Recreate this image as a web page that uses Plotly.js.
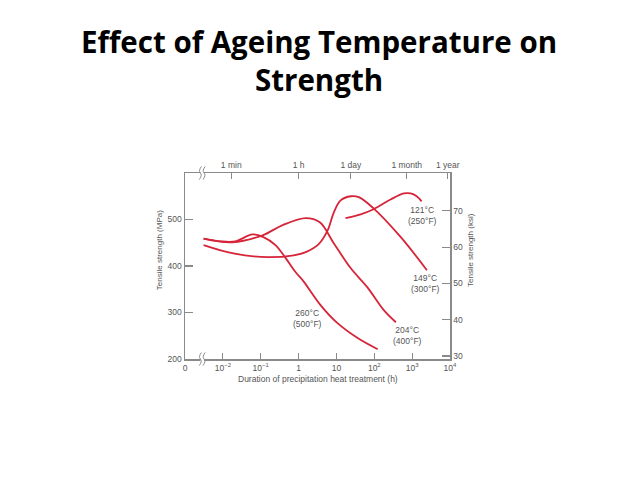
<!DOCTYPE html>
<html>
<head>
<meta charset="utf-8">
<script src="https://cdn.plot.ly/plotly-3.0.1.min.js"></script>
<style>html,body{margin:0;padding:0;background:#fff;}#chart{width:638px;height:479px;}</style>
</head>
<body>
<div id="chart"></div>
<script>
// ---- data (hours, MPa) ----
const hours260 = [0.0031, 0.0087, 0.0214, 0.0603, 0.1175, 0.245, 0.457, 0.83, 1.35, 3.8, 10.7, 36.3, 123];
const mpa260   = [459, 453, 453, 468, 462, 445, 417, 387, 367, 316, 277, 245, 221];

const hours204 = [0.0031, 0.0178, 0.112, 0.38, 1.55, 3.63, 8.5, 24, 66, 178, 372];
const mpa204   = [459, 451, 466, 488, 503, 494, 449, 395, 354, 305, 279];

const hours149 = [0.0031, 0.019, 0.151, 0.74, 1.55, 3.4, 5.9, 8.5, 12.9, 24, 38.9, 95.5, 501, 2455];
const mpa149   = [445, 427, 419, 423, 430, 447, 477, 515, 541, 550, 548, 524, 462, 391];

const hours121 = [17.4, 43.7, 95.5, 269, 603, 912, 1318, 1778];
const mpa121   = [503, 511, 522, 543, 556, 556, 550, 539];

const curveLabels = ["260°C<br>(500°F)", "204°C<br>(400°F)", "149°C<br>(300°F)", "121°C<br>(250°F)"];
const titleText = "Effect of Ageing Temperature on<br>Strength";

const bottomTickVals = [0.001, 0.01, 0.1, 1, 10, 100, 1000, 10000];
const bottomTickText = ["0", "10<sup>−2</sup>", "10<sup>−1</sup>", "1", "10", "10<sup>2</sup>", "10<sup>3</sup>", "10<sup>4</sup>"];
const topTickVals = [1/60, 1, 24, 720, 8760];
const topTickText = ["1 min", "1 h", "1 day", "1 month", "1 year"];
const mpaTicks = [200, 300, 400, 500];
const ksiTicks = [30, 40, 50, 60, 70];

const red = "rgb(214,36,56)";
const grey = "#8a8a8a";
const txt = "#555";

function curve(x, y) {
  return {x: x, y: y, type: "scatter", mode: "lines", xaxis: "x", yaxis: "y",
    line: {color: red, width: 1.8, shape: "spline", smoothing: 1}, hoverinfo: "skip", showlegend: false};
}
const traces = [
  curve(hours260, mpa260), curve(hours204, mpa204), curve(hours149, mpa149), curve(hours121, mpa121),
  {x: topTickVals, y: ksiTicks, type: "scatter", mode: "markers", xaxis: "x2", yaxis: "y2",
   marker: {opacity: 0, size: 1}, hoverinfo: "skip", showlegend: false}
];

const tickFont = {family: "Liberation Sans, Arial, sans-serif", size: 8.5, color: txt};

const labelPos = [[0.24, 288], [2.88, 250], [3.36, 363], [3.28, 508]];
const annotations = curveLabels.map((t, i) => ({
  text: t, x: labelPos[i][0], y: labelPos[i][1], xref: "x", yref: "y",
  showarrow: false, font: {family: "Liberation Sans, Arial, sans-serif", size: 8.5, color: txt}
}));
annotations.push({
  text: titleText, xref: "paper", yref: "paper", x: (319 - 184.5) / 265.5, y: (359 - 60) / 186,
  xanchor: "center", yanchor: "middle", showarrow: false,
  font: {family: "'Open Sans', Lato, sans-serif", size: 29.5, color: "#000", weight: "bold"}
});
annotations.push(
  {text: "Tensile strength (MPa)", xref: "paper", yref: "paper", x: -0.122, y: 0.586, textangle: -90,
   showarrow: false, font: {family: "Liberation Sans, Arial, sans-serif", size: 8, color: txt}},
  {text: "Tensile strength (ksi)", xref: "paper", yref: "paper", x: 1.10, y: 0.586, textangle: -90,
   showarrow: false, font: {family: "Liberation Sans, Arial, sans-serif", size: 8, color: txt}},
  {text: "Duration of precipitation heat treatment (h)", xref: "paper", yref: "paper", x: 0.5, y: -0.145,
   showarrow: false, font: {family: "Liberation Sans, Arial, sans-serif", size: 8.5, color: txt}}
);

// axis break marks
function breakShapes(yc) {
  const h = 0.035;
  return [
    {type: "rect", xref: "paper", yref: "paper", x0: 0.058, x1: 0.072, y0: yc - 0.012, y1: yc + 0.012,
     fillcolor: "#fff", line: {width: 0}, layer: "above"},
    {type: "path", xref: "paper", yref: "paper", layer: "above",
     path: `M 0.054 ${yc - h} Q 0.066 ${yc - h/3} 0.058 ${yc} Q 0.050 ${yc + h/3} 0.062 ${yc + h}`,
     line: {color: grey, width: 1}},
    {type: "path", xref: "paper", yref: "paper", layer: "above",
     path: `M 0.068 ${yc - h} Q 0.080 ${yc - h/3} 0.072 ${yc} Q 0.064 ${yc + h/3} 0.076 ${yc + h}`,
     line: {color: grey, width: 1}}
  ];
}

const layout = {
  width: 638, height: 479,
  margin: {l: 184.5, r: 188, t: 173, b: 120},
  paper_bgcolor: "#fff", plot_bgcolor: "#fff",
  xaxis: {type: "log", range: [-3, 4], tickvals: bottomTickVals, ticktext: bottomTickText,
    ticks: "inside", ticklen: 6, tickcolor: grey, tickwidth: 1.2, showline: true, linecolor: grey, linewidth: 1.5,
    showgrid: false, zeroline: false, tickfont: tickFont, fixedrange: true},
  xaxis2: {type: "log", range: [-3, 4], overlaying: "x", side: "top", anchor: "y2",
    tickvals: topTickVals, ticktext: topTickText,
    ticks: "inside", ticklen: 6, tickcolor: grey, tickwidth: 1.2, showline: true, linecolor: grey, linewidth: 1.5,
    showgrid: false, zeroline: false, tickfont: tickFont, fixedrange: true},
  yaxis: {range: [200, 600], tickvals: mpaTicks, ticks: "inside", ticklen: 8, tickcolor: grey, tickwidth: 1.2,
    showline: true, linecolor: grey, linewidth: 1.5, showgrid: false, zeroline: false, tickfont: tickFont, fixedrange: true},
  yaxis2: {range: [29.2, 80.4], overlaying: "y", side: "right", anchor: "x2", tickvals: ksiTicks,
    ticks: "inside", ticklen: 8, tickcolor: grey, tickwidth: 1.2, showline: true, linecolor: grey, linewidth: 1.5,
    showgrid: false, zeroline: false, tickfont: tickFont, fixedrange: true},
  annotations: annotations,
  shapes: breakShapes(0).concat(breakShapes(1)),
  showlegend: false
};

Plotly.newPlot("chart", traces, layout, {displayModeBar: false, staticPlot: true});
</script>
</body>
</html>
